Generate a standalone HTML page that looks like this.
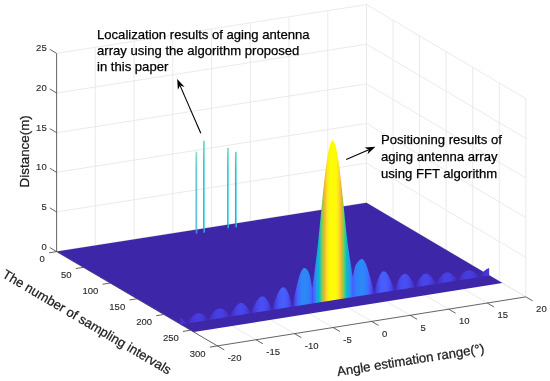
<!DOCTYPE html>
<html><head><meta charset="utf-8"><title>Figure</title>
<style>html,body{margin:0;padding:0;background:#fff}svg{display:block}.g{stroke:#e8e8e8;stroke-width:0.9;fill:none}.ax{stroke:#484848;stroke-width:0.85;fill:none}text{font-family:"Liberation Sans",Arial,Helvetica,sans-serif;fill:#262626}.t{font-size:9.5px;fill:#2a2a2a;stroke:#2a2a2a;stroke-width:0.12}.l{font-size:13.2px;fill:#1c1c1c;stroke:#1c1c1c;stroke-width:0.25}.n{font-size:13.1px;fill:#000;stroke:#000;stroke-width:0.25}.ar{stroke:#000;stroke-width:1.1;fill:none}</style></head><body>
<svg width="550" height="381" viewBox="0 0 550 381">
<rect width="550" height="381" fill="#fff"/>
<g>
<line class="g" x1="95.34" y1="245.49" x2="95.34" y2="47.29"/>
<line class="g" x1="134.07" y1="239.39" x2="134.07" y2="41.19"/>
<line class="g" x1="172.81" y1="233.28" x2="172.81" y2="35.08"/>
<line class="g" x1="211.55" y1="227.18" x2="211.55" y2="28.98"/>
<line class="g" x1="250.29" y1="221.07" x2="250.29" y2="22.87"/>
<line class="g" x1="289.02" y1="214.96" x2="289.02" y2="16.76"/>
<line class="g" x1="327.76" y1="208.86" x2="327.76" y2="10.66"/>
<line class="g" x1="366.50" y1="202.75" x2="366.50" y2="4.55"/>
<line class="g" x1="56.60" y1="251.60" x2="366.50" y2="202.75"/>
<line class="g" x1="56.60" y1="211.96" x2="366.50" y2="163.11"/>
<line class="g" x1="56.60" y1="172.32" x2="366.50" y2="123.47"/>
<line class="g" x1="56.60" y1="132.68" x2="366.50" y2="83.83"/>
<line class="g" x1="56.60" y1="93.04" x2="366.50" y2="44.19"/>
<line class="g" x1="56.60" y1="53.40" x2="366.50" y2="4.55"/>
<line class="g" x1="393.05" y1="218.44" x2="393.05" y2="20.24"/>
<line class="g" x1="419.60" y1="234.13" x2="419.60" y2="35.93"/>
<line class="g" x1="446.15" y1="249.82" x2="446.15" y2="51.62"/>
<line class="g" x1="472.70" y1="265.52" x2="472.70" y2="67.32"/>
<line class="g" x1="499.25" y1="281.21" x2="499.25" y2="83.01"/>
<line class="g" x1="525.80" y1="296.90" x2="525.80" y2="98.70"/>
<line class="g" x1="366.50" y1="202.75" x2="525.80" y2="296.90"/>
<line class="g" x1="366.50" y1="163.11" x2="525.80" y2="257.26"/>
<line class="g" x1="366.50" y1="123.47" x2="525.80" y2="217.62"/>
<line class="g" x1="366.50" y1="83.83" x2="525.80" y2="177.98"/>
<line class="g" x1="366.50" y1="44.19" x2="525.80" y2="138.34"/>
<line class="g" x1="366.50" y1="4.55" x2="525.80" y2="98.70"/>
<line class="g" x1="95.34" y1="245.49" x2="255.95" y2="339.77"/>
<line class="g" x1="134.07" y1="239.39" x2="294.50" y2="333.65"/>
<line class="g" x1="172.81" y1="233.28" x2="333.05" y2="327.52"/>
<line class="g" x1="211.55" y1="227.18" x2="371.60" y2="321.40"/>
<line class="g" x1="250.29" y1="221.07" x2="410.15" y2="315.27"/>
<line class="g" x1="289.02" y1="214.96" x2="448.70" y2="309.15"/>
<line class="g" x1="327.76" y1="208.86" x2="487.25" y2="303.02"/>
<line class="g" x1="366.50" y1="202.75" x2="525.80" y2="296.90"/>
<line class="g" x1="56.60" y1="251.60" x2="366.50" y2="202.75"/>
<line class="g" x1="83.40" y1="267.32" x2="393.05" y2="218.44"/>
<line class="g" x1="110.20" y1="283.03" x2="419.60" y2="234.13"/>
<line class="g" x1="137.00" y1="298.75" x2="446.15" y2="249.82"/>
<line class="g" x1="163.80" y1="314.47" x2="472.70" y2="265.52"/>
<line class="g" x1="190.60" y1="330.18" x2="499.25" y2="281.21"/>
</g>
<g>
<line class="ax" x1="56.60" y1="251.60" x2="56.60" y2="53.40"/>
<line class="ax" x1="56.60" y1="251.60" x2="217.40" y2="345.90"/>
<line class="ax" x1="217.40" y1="345.90" x2="525.80" y2="296.90"/>
<line class="ax" x1="56.60" y1="251.60" x2="49.80" y2="247.50"/>
<line class="ax" x1="56.60" y1="211.96" x2="49.80" y2="207.86"/>
<line class="ax" x1="56.60" y1="172.32" x2="49.80" y2="168.22"/>
<line class="ax" x1="56.60" y1="132.68" x2="49.80" y2="128.58"/>
<line class="ax" x1="56.60" y1="93.04" x2="49.80" y2="88.94"/>
<line class="ax" x1="56.60" y1="53.40" x2="49.80" y2="49.30"/>
<line class="ax" x1="56.60" y1="251.60" x2="49.00" y2="252.85"/>
<line class="ax" x1="83.40" y1="267.32" x2="75.80" y2="268.57"/>
<line class="ax" x1="110.20" y1="283.03" x2="102.60" y2="284.28"/>
<line class="ax" x1="137.00" y1="298.75" x2="129.40" y2="300.00"/>
<line class="ax" x1="163.80" y1="314.47" x2="156.20" y2="315.72"/>
<line class="ax" x1="190.60" y1="330.18" x2="183.00" y2="331.43"/>
<line class="ax" x1="217.40" y1="345.90" x2="209.80" y2="347.15"/>
<line class="ax" x1="217.40" y1="345.90" x2="224.30" y2="349.90"/>
<line class="ax" x1="255.95" y1="339.77" x2="262.85" y2="343.77"/>
<line class="ax" x1="294.50" y1="333.65" x2="301.40" y2="337.65"/>
<line class="ax" x1="333.05" y1="327.52" x2="339.95" y2="331.52"/>
<line class="ax" x1="371.60" y1="321.40" x2="378.50" y2="325.40"/>
<line class="ax" x1="410.15" y1="315.27" x2="417.05" y2="319.27"/>
<line class="ax" x1="448.70" y1="309.15" x2="455.60" y2="313.15"/>
<line class="ax" x1="487.25" y1="303.02" x2="494.15" y2="307.02"/>
<line class="ax" x1="525.80" y1="296.90" x2="532.70" y2="300.90"/>
</g>
<polygon fill="#3e26a8" points="56.60,251.60 366.50,202.75 502.44,283.09 193.82,332.07"/>
<defs><linearGradient id="sp" x1="0" y1="0" x2="0" y2="1"><stop offset="0" stop-color="#6cdcb4"/><stop offset="0.3" stop-color="#40d8d8"/><stop offset="1" stop-color="#34dcec"/></linearGradient><linearGradient id="sq" x1="0" y1="0" x2="0" y2="1"><stop offset="0" stop-color="#58c8bc"/><stop offset="0.25" stop-color="#3690d4"/><stop offset="1" stop-color="#3c74d2"/></linearGradient></defs>
<rect x="195.45" y="154.70" width="0.35" height="78.80" fill="#9a86e0" opacity="0.55"/>
<rect x="195.75" y="151.70" width="0.85" height="81.80" fill="url(#sq)"/>
<rect x="196.55" y="151.70" width="0.7" height="81.80" fill="url(#sp)"/>
<rect x="203.00" y="143.60" width="0.35" height="89.00" fill="#9a86e0" opacity="0.55"/>
<rect x="203.30" y="140.60" width="0.85" height="92.00" fill="url(#sq)"/>
<rect x="204.10" y="140.60" width="0.7" height="92.00" fill="url(#sp)"/>
<rect x="227.02" y="150.90" width="0.35" height="77.30" fill="#9a86e0" opacity="0.55"/>
<rect x="227.32" y="147.90" width="0.85" height="80.30" fill="url(#sq)"/>
<rect x="228.12" y="147.90" width="0.7" height="80.30" fill="url(#sp)"/>
<rect x="234.90" y="154.80" width="0.35" height="72.50" fill="#9a86e0" opacity="0.55"/>
<rect x="235.20" y="151.80" width="0.85" height="75.50" fill="url(#sq)"/>
<rect x="236.00" y="151.80" width="0.7" height="75.50" fill="url(#sp)"/>
<defs><linearGradient id="cg" gradientUnits="userSpaceOnUse" x1="180.42" y1="0" x2="489.16" y2="0"><stop offset="0.0000" stop-color="#4537d7"/><stop offset="0.0019" stop-color="#4537d5"/><stop offset="0.0039" stop-color="#4536d3"/><stop offset="0.0058" stop-color="#4435d0"/><stop offset="0.0078" stop-color="#4434ce"/><stop offset="0.0097" stop-color="#4332cb"/><stop offset="0.0117" stop-color="#4331c7"/><stop offset="0.0136" stop-color="#4230c3"/><stop offset="0.0155" stop-color="#422ebf"/><stop offset="0.0175" stop-color="#412dbb"/><stop offset="0.0194" stop-color="#402bb6"/><stop offset="0.0214" stop-color="#3f29b1"/><stop offset="0.0233" stop-color="#3f29b1"/><stop offset="0.0253" stop-color="#402bb7"/><stop offset="0.0272" stop-color="#412dbb"/><stop offset="0.0292" stop-color="#422ec0"/><stop offset="0.0311" stop-color="#4230c4"/><stop offset="0.0330" stop-color="#4332c8"/><stop offset="0.0350" stop-color="#4433cc"/><stop offset="0.0369" stop-color="#4434cf"/><stop offset="0.0389" stop-color="#4536d2"/><stop offset="0.0408" stop-color="#4537d5"/><stop offset="0.0428" stop-color="#4538d7"/><stop offset="0.0447" stop-color="#4639d9"/><stop offset="0.0466" stop-color="#463adb"/><stop offset="0.0486" stop-color="#463bdd"/><stop offset="0.0505" stop-color="#463bde"/><stop offset="0.0525" stop-color="#463cde"/><stop offset="0.0544" stop-color="#463cdf"/><stop offset="0.0564" stop-color="#463ddf"/><stop offset="0.0583" stop-color="#463ddf"/><stop offset="0.0602" stop-color="#463cdf"/><stop offset="0.0622" stop-color="#463cde"/><stop offset="0.0641" stop-color="#463bde"/><stop offset="0.0661" stop-color="#463bdc"/><stop offset="0.0680" stop-color="#463adb"/><stop offset="0.0700" stop-color="#4639d9"/><stop offset="0.0719" stop-color="#4538d7"/><stop offset="0.0738" stop-color="#4537d5"/><stop offset="0.0758" stop-color="#4435d2"/><stop offset="0.0777" stop-color="#4434ce"/><stop offset="0.0797" stop-color="#4332cb"/><stop offset="0.0816" stop-color="#4331c6"/><stop offset="0.0836" stop-color="#422fc2"/><stop offset="0.0855" stop-color="#412dbd"/><stop offset="0.0875" stop-color="#402bb7"/><stop offset="0.0894" stop-color="#3f29b1"/><stop offset="0.0913" stop-color="#3f29b1"/><stop offset="0.0933" stop-color="#402bb8"/><stop offset="0.0952" stop-color="#412dbd"/><stop offset="0.0972" stop-color="#422fc2"/><stop offset="0.0991" stop-color="#4331c7"/><stop offset="0.1011" stop-color="#4433cb"/><stop offset="0.1030" stop-color="#4434d0"/><stop offset="0.1049" stop-color="#4536d3"/><stop offset="0.1069" stop-color="#4538d7"/><stop offset="0.1088" stop-color="#4639d9"/><stop offset="0.1108" stop-color="#463adc"/><stop offset="0.1127" stop-color="#463cde"/><stop offset="0.1147" stop-color="#463de0"/><stop offset="0.1166" stop-color="#463ee1"/><stop offset="0.1185" stop-color="#473fe2"/><stop offset="0.1205" stop-color="#4740e3"/><stop offset="0.1224" stop-color="#4740e4"/><stop offset="0.1244" stop-color="#4741e4"/><stop offset="0.1263" stop-color="#4741e5"/><stop offset="0.1283" stop-color="#4741e4"/><stop offset="0.1302" stop-color="#4740e4"/><stop offset="0.1321" stop-color="#4740e3"/><stop offset="0.1341" stop-color="#473fe3"/><stop offset="0.1360" stop-color="#473ee1"/><stop offset="0.1380" stop-color="#463de0"/><stop offset="0.1399" stop-color="#463cde"/><stop offset="0.1419" stop-color="#463bdc"/><stop offset="0.1438" stop-color="#4639d9"/><stop offset="0.1458" stop-color="#4537d6"/><stop offset="0.1477" stop-color="#4536d3"/><stop offset="0.1496" stop-color="#4434ce"/><stop offset="0.1516" stop-color="#4332ca"/><stop offset="0.1535" stop-color="#4330c5"/><stop offset="0.1555" stop-color="#422ebf"/><stop offset="0.1574" stop-color="#412cb9"/><stop offset="0.1594" stop-color="#3f29b2"/><stop offset="0.1613" stop-color="#3f29b2"/><stop offset="0.1632" stop-color="#412cba"/><stop offset="0.1652" stop-color="#422fc0"/><stop offset="0.1671" stop-color="#4331c6"/><stop offset="0.1691" stop-color="#4433cc"/><stop offset="0.1710" stop-color="#4435d1"/><stop offset="0.1730" stop-color="#4537d6"/><stop offset="0.1749" stop-color="#4639da"/><stop offset="0.1768" stop-color="#463bdd"/><stop offset="0.1788" stop-color="#463de0"/><stop offset="0.1807" stop-color="#473fe3"/><stop offset="0.1827" stop-color="#4741e5"/><stop offset="0.1846" stop-color="#4742e7"/><stop offset="0.1866" stop-color="#4744e8"/><stop offset="0.1885" stop-color="#4745e9"/><stop offset="0.1904" stop-color="#4746ea"/><stop offset="0.1924" stop-color="#4746ea"/><stop offset="0.1943" stop-color="#4747eb"/><stop offset="0.1963" stop-color="#4747eb"/><stop offset="0.1982" stop-color="#4746eb"/><stop offset="0.2002" stop-color="#4746ea"/><stop offset="0.2021" stop-color="#4745e9"/><stop offset="0.2041" stop-color="#4744e8"/><stop offset="0.2060" stop-color="#4743e7"/><stop offset="0.2079" stop-color="#4742e6"/><stop offset="0.2099" stop-color="#4740e3"/><stop offset="0.2118" stop-color="#463ee1"/><stop offset="0.2138" stop-color="#463cde"/><stop offset="0.2157" stop-color="#4639da"/><stop offset="0.2177" stop-color="#4537d6"/><stop offset="0.2196" stop-color="#4435d0"/><stop offset="0.2215" stop-color="#4332ca"/><stop offset="0.2235" stop-color="#4230c3"/><stop offset="0.2254" stop-color="#412dbb"/><stop offset="0.2274" stop-color="#402ab3"/><stop offset="0.2293" stop-color="#402ab3"/><stop offset="0.2313" stop-color="#412dbc"/><stop offset="0.2332" stop-color="#4230c4"/><stop offset="0.2351" stop-color="#4433cb"/><stop offset="0.2371" stop-color="#4535d2"/><stop offset="0.2390" stop-color="#4538d8"/><stop offset="0.2410" stop-color="#463bdd"/><stop offset="0.2429" stop-color="#463ee1"/><stop offset="0.2449" stop-color="#4741e5"/><stop offset="0.2468" stop-color="#4743e7"/><stop offset="0.2487" stop-color="#4746ea"/><stop offset="0.2507" stop-color="#4848ec"/><stop offset="0.2526" stop-color="#484aee"/><stop offset="0.2546" stop-color="#484cef"/><stop offset="0.2565" stop-color="#484df0"/><stop offset="0.2585" stop-color="#484ef1"/><stop offset="0.2604" stop-color="#484ff2"/><stop offset="0.2624" stop-color="#484ff2"/><stop offset="0.2643" stop-color="#4850f2"/><stop offset="0.2662" stop-color="#4850f2"/><stop offset="0.2682" stop-color="#484ff2"/><stop offset="0.2701" stop-color="#484ff1"/><stop offset="0.2721" stop-color="#484df1"/><stop offset="0.2740" stop-color="#484cf0"/><stop offset="0.2760" stop-color="#484aee"/><stop offset="0.2779" stop-color="#4848ec"/><stop offset="0.2798" stop-color="#4746ea"/><stop offset="0.2818" stop-color="#4743e8"/><stop offset="0.2837" stop-color="#4741e4"/><stop offset="0.2857" stop-color="#463de0"/><stop offset="0.2876" stop-color="#463adb"/><stop offset="0.2896" stop-color="#4537d5"/><stop offset="0.2915" stop-color="#4433cd"/><stop offset="0.2934" stop-color="#4230c4"/><stop offset="0.2954" stop-color="#412cba"/><stop offset="0.2973" stop-color="#3f28ae"/><stop offset="0.2993" stop-color="#412dbb"/><stop offset="0.3012" stop-color="#4331c6"/><stop offset="0.3032" stop-color="#4435d0"/><stop offset="0.3051" stop-color="#4539d9"/><stop offset="0.3070" stop-color="#463de0"/><stop offset="0.3090" stop-color="#4741e5"/><stop offset="0.3109" stop-color="#4746ea"/><stop offset="0.3129" stop-color="#484aed"/><stop offset="0.3148" stop-color="#484df1"/><stop offset="0.3168" stop-color="#4851f3"/><stop offset="0.3187" stop-color="#4854f5"/><stop offset="0.3207" stop-color="#4757f7"/><stop offset="0.3226" stop-color="#4759f8"/><stop offset="0.3245" stop-color="#475bf9"/><stop offset="0.3265" stop-color="#475dfa"/><stop offset="0.3284" stop-color="#465efb"/><stop offset="0.3304" stop-color="#465ffb"/><stop offset="0.3323" stop-color="#465ffb"/><stop offset="0.3343" stop-color="#465ffb"/><stop offset="0.3362" stop-color="#465ffb"/><stop offset="0.3381" stop-color="#465efb"/><stop offset="0.3401" stop-color="#475cfa"/><stop offset="0.3420" stop-color="#475bf9"/><stop offset="0.3440" stop-color="#4758f8"/><stop offset="0.3459" stop-color="#4755f6"/><stop offset="0.3479" stop-color="#4852f4"/><stop offset="0.3498" stop-color="#484ef1"/><stop offset="0.3517" stop-color="#484aee"/><stop offset="0.3537" stop-color="#4745e9"/><stop offset="0.3556" stop-color="#4740e3"/><stop offset="0.3576" stop-color="#463adb"/><stop offset="0.3595" stop-color="#4435d2"/><stop offset="0.3615" stop-color="#4330c5"/><stop offset="0.3634" stop-color="#402bb7"/><stop offset="0.3654" stop-color="#4330c5"/><stop offset="0.3673" stop-color="#4537d5"/><stop offset="0.3692" stop-color="#473ee2"/><stop offset="0.3712" stop-color="#4746ea"/><stop offset="0.3731" stop-color="#484df0"/><stop offset="0.3751" stop-color="#4854f5"/><stop offset="0.3770" stop-color="#475bf9"/><stop offset="0.3790" stop-color="#4561fc"/><stop offset="0.3809" stop-color="#4367fd"/><stop offset="0.3828" stop-color="#406dfe"/><stop offset="0.3848" stop-color="#3b72ff"/><stop offset="0.3867" stop-color="#3677fe"/><stop offset="0.3887" stop-color="#327cfc"/><stop offset="0.3906" stop-color="#3080fb"/><stop offset="0.3926" stop-color="#2f83f9"/><stop offset="0.3945" stop-color="#2e85f8"/><stop offset="0.3964" stop-color="#2e87f7"/><stop offset="0.3984" stop-color="#2d88f6"/><stop offset="0.4003" stop-color="#2d89f6"/><stop offset="0.4023" stop-color="#2d89f5"/><stop offset="0.4042" stop-color="#2d88f6"/><stop offset="0.4062" stop-color="#2d88f6"/><stop offset="0.4081" stop-color="#2e87f7"/><stop offset="0.4100" stop-color="#2e85f8"/><stop offset="0.4120" stop-color="#2e83f9"/><stop offset="0.4139" stop-color="#2f81fa"/><stop offset="0.4159" stop-color="#317efb"/><stop offset="0.4178" stop-color="#347afd"/><stop offset="0.4198" stop-color="#3975fe"/><stop offset="0.4217" stop-color="#3f6eff"/><stop offset="0.4237" stop-color="#4466fd"/><stop offset="0.4256" stop-color="#475cfa"/><stop offset="0.4275" stop-color="#4851f3"/><stop offset="0.4295" stop-color="#4759f8"/><stop offset="0.4314" stop-color="#4465fd"/><stop offset="0.4334" stop-color="#3d70ff"/><stop offset="0.4353" stop-color="#327cfc"/><stop offset="0.4373" stop-color="#2e86f7"/><stop offset="0.4392" stop-color="#2b90f0"/><stop offset="0.4411" stop-color="#269ae9"/><stop offset="0.4431" stop-color="#21a3e3"/><stop offset="0.4450" stop-color="#19addc"/><stop offset="0.4470" stop-color="#07b5d0"/><stop offset="0.4489" stop-color="#04bbc2"/><stop offset="0.4509" stop-color="#1fc0b2"/><stop offset="0.4528" stop-color="#31c6a1"/><stop offset="0.4547" stop-color="#41ca8c"/><stop offset="0.4567" stop-color="#5dcc75"/><stop offset="0.4586" stop-color="#7ccc5c"/><stop offset="0.4606" stop-color="#9cc944"/><stop offset="0.4625" stop-color="#b9c431"/><stop offset="0.4645" stop-color="#d2bf27"/><stop offset="0.4664" stop-color="#e6bb2d"/><stop offset="0.4683" stop-color="#f7ba3c"/><stop offset="0.4703" stop-color="#fec13a"/><stop offset="0.4722" stop-color="#fecf2e"/><stop offset="0.4742" stop-color="#fbdd24"/><stop offset="0.4761" stop-color="#f9e71c"/><stop offset="0.4781" stop-color="#f9ef16"/><stop offset="0.4800" stop-color="#faf411"/><stop offset="0.4820" stop-color="#fbf80d"/><stop offset="0.4839" stop-color="#fcfa09"/><stop offset="0.4858" stop-color="#fdfc06"/><stop offset="0.4878" stop-color="#fdfc06"/><stop offset="0.4897" stop-color="#fdfc06"/><stop offset="0.4917" stop-color="#fdfc06"/><stop offset="0.4936" stop-color="#fdfc06"/><stop offset="0.4956" stop-color="#fdfc06"/><stop offset="0.4975" stop-color="#fdfc06"/><stop offset="0.4994" stop-color="#fdfc06"/><stop offset="0.5014" stop-color="#fdfc06"/><stop offset="0.5033" stop-color="#fcfa09"/><stop offset="0.5053" stop-color="#fbf80d"/><stop offset="0.5072" stop-color="#faf411"/><stop offset="0.5092" stop-color="#f9ee17"/><stop offset="0.5111" stop-color="#f9e71d"/><stop offset="0.5130" stop-color="#fbdc25"/><stop offset="0.5150" stop-color="#fecf2f"/><stop offset="0.5169" stop-color="#fec03a"/><stop offset="0.5189" stop-color="#f6ba3b"/><stop offset="0.5208" stop-color="#e5bb2d"/><stop offset="0.5228" stop-color="#d0bf27"/><stop offset="0.5247" stop-color="#b7c532"/><stop offset="0.5266" stop-color="#9ac945"/><stop offset="0.5286" stop-color="#7bcc5d"/><stop offset="0.5305" stop-color="#5ccc76"/><stop offset="0.5325" stop-color="#40ca8d"/><stop offset="0.5344" stop-color="#31c6a0"/><stop offset="0.5364" stop-color="#20c1b1"/><stop offset="0.5383" stop-color="#06bcc0"/><stop offset="0.5403" stop-color="#05b6ce"/><stop offset="0.5422" stop-color="#16afda"/><stop offset="0.5441" stop-color="#1ea7e1"/><stop offset="0.5461" stop-color="#249ee6"/><stop offset="0.5480" stop-color="#2896eb"/><stop offset="0.5500" stop-color="#2c8ef2"/><stop offset="0.5519" stop-color="#2e85f8"/><stop offset="0.5539" stop-color="#327bfc"/><stop offset="0.5558" stop-color="#3d70ff"/><stop offset="0.5577" stop-color="#4464fd"/><stop offset="0.5597" stop-color="#475dfa"/><stop offset="0.5616" stop-color="#4367fd"/><stop offset="0.5636" stop-color="#3e6fff"/><stop offset="0.5655" stop-color="#3975fe"/><stop offset="0.5675" stop-color="#347afd"/><stop offset="0.5694" stop-color="#317dfc"/><stop offset="0.5713" stop-color="#307ffb"/><stop offset="0.5733" stop-color="#2f81fa"/><stop offset="0.5752" stop-color="#2f83f9"/><stop offset="0.5772" stop-color="#2e84f8"/><stop offset="0.5791" stop-color="#2e85f8"/><stop offset="0.5811" stop-color="#2e86f7"/><stop offset="0.5830" stop-color="#2d87f6"/><stop offset="0.5849" stop-color="#2d88f6"/><stop offset="0.5869" stop-color="#2d88f6"/><stop offset="0.5888" stop-color="#2d88f6"/><stop offset="0.5908" stop-color="#2d88f6"/><stop offset="0.5927" stop-color="#2e87f7"/><stop offset="0.5947" stop-color="#2e85f8"/><stop offset="0.5966" stop-color="#2e83f9"/><stop offset="0.5986" stop-color="#2f80fa"/><stop offset="0.6005" stop-color="#317dfc"/><stop offset="0.6024" stop-color="#3479fd"/><stop offset="0.6044" stop-color="#3975fe"/><stop offset="0.6063" stop-color="#3e70ff"/><stop offset="0.6083" stop-color="#416afe"/><stop offset="0.6102" stop-color="#4465fd"/><stop offset="0.6122" stop-color="#465ffb"/><stop offset="0.6141" stop-color="#4759f9"/><stop offset="0.6160" stop-color="#4853f5"/><stop offset="0.6180" stop-color="#484df0"/><stop offset="0.6199" stop-color="#4746ea"/><stop offset="0.6219" stop-color="#473fe2"/><stop offset="0.6238" stop-color="#4538d7"/><stop offset="0.6258" stop-color="#4332c8"/><stop offset="0.6277" stop-color="#402bb7"/><stop offset="0.6296" stop-color="#422fc1"/><stop offset="0.6316" stop-color="#4434ce"/><stop offset="0.6335" stop-color="#4539d9"/><stop offset="0.6355" stop-color="#463ee1"/><stop offset="0.6374" stop-color="#4743e8"/><stop offset="0.6394" stop-color="#4848ec"/><stop offset="0.6413" stop-color="#484df0"/><stop offset="0.6432" stop-color="#4851f3"/><stop offset="0.6452" stop-color="#4854f6"/><stop offset="0.6471" stop-color="#4757f7"/><stop offset="0.6491" stop-color="#475af9"/><stop offset="0.6510" stop-color="#475cfa"/><stop offset="0.6530" stop-color="#465dfb"/><stop offset="0.6549" stop-color="#465ffb"/><stop offset="0.6569" stop-color="#465ffb"/><stop offset="0.6588" stop-color="#465ffb"/><stop offset="0.6607" stop-color="#465ffb"/><stop offset="0.6627" stop-color="#465efb"/><stop offset="0.6646" stop-color="#465dfa"/><stop offset="0.6666" stop-color="#475cfa"/><stop offset="0.6685" stop-color="#475af9"/><stop offset="0.6705" stop-color="#4758f8"/><stop offset="0.6724" stop-color="#4755f6"/><stop offset="0.6743" stop-color="#4852f4"/><stop offset="0.6763" stop-color="#484ff2"/><stop offset="0.6782" stop-color="#484bef"/><stop offset="0.6802" stop-color="#4747eb"/><stop offset="0.6821" stop-color="#4743e7"/><stop offset="0.6841" stop-color="#473fe2"/><stop offset="0.6860" stop-color="#463adc"/><stop offset="0.6879" stop-color="#4536d4"/><stop offset="0.6899" stop-color="#4332cb"/><stop offset="0.6918" stop-color="#422fc0"/><stop offset="0.6938" stop-color="#402ab5"/><stop offset="0.6957" stop-color="#402ab5"/><stop offset="0.6977" stop-color="#422fc0"/><stop offset="0.6996" stop-color="#4332ca"/><stop offset="0.7015" stop-color="#4536d2"/><stop offset="0.7035" stop-color="#4639d9"/><stop offset="0.7054" stop-color="#463cdf"/><stop offset="0.7074" stop-color="#4740e3"/><stop offset="0.7093" stop-color="#4743e7"/><stop offset="0.7113" stop-color="#4746ea"/><stop offset="0.7132" stop-color="#4848ec"/><stop offset="0.7152" stop-color="#484aee"/><stop offset="0.7171" stop-color="#484cef"/><stop offset="0.7190" stop-color="#484df1"/><stop offset="0.7210" stop-color="#484ef1"/><stop offset="0.7229" stop-color="#484ff2"/><stop offset="0.7249" stop-color="#4850f2"/><stop offset="0.7268" stop-color="#4850f2"/><stop offset="0.7288" stop-color="#484ff2"/><stop offset="0.7307" stop-color="#484ff2"/><stop offset="0.7326" stop-color="#484ef1"/><stop offset="0.7346" stop-color="#484df0"/><stop offset="0.7365" stop-color="#484bef"/><stop offset="0.7385" stop-color="#4849ed"/><stop offset="0.7404" stop-color="#4747ec"/><stop offset="0.7424" stop-color="#4745e9"/><stop offset="0.7443" stop-color="#4743e7"/><stop offset="0.7462" stop-color="#4740e3"/><stop offset="0.7482" stop-color="#463de0"/><stop offset="0.7501" stop-color="#463adb"/><stop offset="0.7521" stop-color="#4537d6"/><stop offset="0.7540" stop-color="#4434cf"/><stop offset="0.7560" stop-color="#4331c8"/><stop offset="0.7579" stop-color="#422ec0"/><stop offset="0.7599" stop-color="#402bb8"/><stop offset="0.7618" stop-color="#3f28ae"/><stop offset="0.7637" stop-color="#402bb8"/><stop offset="0.7657" stop-color="#422ec0"/><stop offset="0.7676" stop-color="#4331c7"/><stop offset="0.7696" stop-color="#4434ce"/><stop offset="0.7715" stop-color="#4536d3"/><stop offset="0.7735" stop-color="#4538d8"/><stop offset="0.7754" stop-color="#463bdc"/><stop offset="0.7773" stop-color="#463de0"/><stop offset="0.7793" stop-color="#473fe2"/><stop offset="0.7812" stop-color="#4741e5"/><stop offset="0.7832" stop-color="#4742e6"/><stop offset="0.7851" stop-color="#4744e8"/><stop offset="0.7871" stop-color="#4745e9"/><stop offset="0.7890" stop-color="#4746ea"/><stop offset="0.7909" stop-color="#4746ea"/><stop offset="0.7929" stop-color="#4747eb"/><stop offset="0.7948" stop-color="#4747eb"/><stop offset="0.7968" stop-color="#4746eb"/><stop offset="0.7987" stop-color="#4746ea"/><stop offset="0.8007" stop-color="#4745e9"/><stop offset="0.8026" stop-color="#4744e8"/><stop offset="0.8045" stop-color="#4743e7"/><stop offset="0.8065" stop-color="#4741e5"/><stop offset="0.8084" stop-color="#4740e3"/><stop offset="0.8104" stop-color="#463ee1"/><stop offset="0.8123" stop-color="#463cde"/><stop offset="0.8143" stop-color="#463adb"/><stop offset="0.8162" stop-color="#4538d7"/><stop offset="0.8182" stop-color="#4536d3"/><stop offset="0.8201" stop-color="#4434ce"/><stop offset="0.8220" stop-color="#4331c8"/><stop offset="0.8240" stop-color="#422fc2"/><stop offset="0.8259" stop-color="#412dbb"/><stop offset="0.8279" stop-color="#402ab5"/><stop offset="0.8298" stop-color="#3f29b0"/><stop offset="0.8318" stop-color="#402bb7"/><stop offset="0.8337" stop-color="#412ebd"/><stop offset="0.8356" stop-color="#4230c3"/><stop offset="0.8376" stop-color="#4332c9"/><stop offset="0.8395" stop-color="#4434ce"/><stop offset="0.8415" stop-color="#4535d2"/><stop offset="0.8434" stop-color="#4537d6"/><stop offset="0.8454" stop-color="#4539d9"/><stop offset="0.8473" stop-color="#463adc"/><stop offset="0.8492" stop-color="#463cde"/><stop offset="0.8512" stop-color="#463de0"/><stop offset="0.8531" stop-color="#473ee1"/><stop offset="0.8551" stop-color="#473fe2"/><stop offset="0.8570" stop-color="#4740e3"/><stop offset="0.8590" stop-color="#4740e4"/><stop offset="0.8609" stop-color="#4741e4"/><stop offset="0.8628" stop-color="#4741e5"/><stop offset="0.8648" stop-color="#4741e4"/><stop offset="0.8667" stop-color="#4740e4"/><stop offset="0.8687" stop-color="#4740e3"/><stop offset="0.8706" stop-color="#473fe2"/><stop offset="0.8726" stop-color="#463ee1"/><stop offset="0.8745" stop-color="#463de0"/><stop offset="0.8765" stop-color="#463cde"/><stop offset="0.8784" stop-color="#463adc"/><stop offset="0.8803" stop-color="#4639d9"/><stop offset="0.8823" stop-color="#4537d6"/><stop offset="0.8842" stop-color="#4536d3"/><stop offset="0.8862" stop-color="#4434cf"/><stop offset="0.8881" stop-color="#4432cb"/><stop offset="0.8901" stop-color="#4331c6"/><stop offset="0.8920" stop-color="#422fc1"/><stop offset="0.8939" stop-color="#412dbc"/><stop offset="0.8959" stop-color="#402bb6"/><stop offset="0.8978" stop-color="#3f29b0"/><stop offset="0.8998" stop-color="#4029b3"/><stop offset="0.9017" stop-color="#402cb8"/><stop offset="0.9037" stop-color="#412dbd"/><stop offset="0.9056" stop-color="#422fc2"/><stop offset="0.9075" stop-color="#4331c7"/><stop offset="0.9095" stop-color="#4332cb"/><stop offset="0.9114" stop-color="#4434ce"/><stop offset="0.9134" stop-color="#4435d2"/><stop offset="0.9153" stop-color="#4536d5"/><stop offset="0.9173" stop-color="#4538d7"/><stop offset="0.9192" stop-color="#4539d9"/><stop offset="0.9211" stop-color="#463adb"/><stop offset="0.9231" stop-color="#463bdc"/><stop offset="0.9250" stop-color="#463bdd"/><stop offset="0.9270" stop-color="#463cde"/><stop offset="0.9289" stop-color="#463cdf"/><stop offset="0.9309" stop-color="#463cdf"/><stop offset="0.9328" stop-color="#463ddf"/><stop offset="0.9348" stop-color="#463cdf"/><stop offset="0.9367" stop-color="#463cdf"/><stop offset="0.9386" stop-color="#463cde"/><stop offset="0.9406" stop-color="#463bdd"/><stop offset="0.9425" stop-color="#463bdc"/><stop offset="0.9445" stop-color="#463adb"/><stop offset="0.9464" stop-color="#4539d9"/><stop offset="0.9484" stop-color="#4538d7"/><stop offset="0.9503" stop-color="#4537d5"/><stop offset="0.9522" stop-color="#4535d2"/><stop offset="0.9542" stop-color="#4434cf"/><stop offset="0.9561" stop-color="#4433cc"/><stop offset="0.9581" stop-color="#4331c8"/><stop offset="0.9600" stop-color="#4230c4"/><stop offset="0.9620" stop-color="#422ec0"/><stop offset="0.9639" stop-color="#412dbb"/><stop offset="0.9658" stop-color="#402bb7"/><stop offset="0.9678" stop-color="#3f29b2"/><stop offset="0.9697" stop-color="#3f29b0"/><stop offset="0.9717" stop-color="#402ab5"/><stop offset="0.9736" stop-color="#412cba"/><stop offset="0.9756" stop-color="#422ebe"/><stop offset="0.9775" stop-color="#422fc2"/><stop offset="0.9794" stop-color="#4331c6"/><stop offset="0.9814" stop-color="#4332c9"/><stop offset="0.9833" stop-color="#4433cd"/><stop offset="0.9853" stop-color="#4434cf"/><stop offset="0.9872" stop-color="#4435d2"/><stop offset="0.9892" stop-color="#4536d4"/><stop offset="0.9911" stop-color="#4537d6"/><stop offset="0.9931" stop-color="#4538d7"/><stop offset="0.9950" stop-color="#4538d8"/><stop offset="0.9969" stop-color="#4639d9"/><stop offset="0.9989" stop-color="#4639da"/><stop offset="1.0000" stop-color="#463ada"/></linearGradient></defs>
<path fill="url(#cg)" d="M180.4 324.5 L180.4 318.0 L180.9 318.2 L181.4 318.5 L181.9 318.7 L182.4 319.0 L182.9 319.3 L183.4 319.7 L183.9 320.1 L184.4 320.4 L184.9 320.9 L185.4 321.3 L185.9 321.7 L186.4 322.2 L186.9 322.6 L187.4 322.2 L187.9 321.6 L188.4 320.9 L188.9 320.3 L189.4 319.7 L189.9 319.1 L190.4 318.6 L190.9 318.0 L191.4 317.5 L191.9 316.9 L192.4 316.4 L192.9 316.0 L193.4 315.5 L193.9 315.1 L194.4 314.8 L194.9 314.4 L195.4 314.1 L195.9 313.9 L196.4 313.6 L196.9 313.5 L197.4 313.3 L197.9 313.2 L198.4 313.2 L198.9 313.2 L199.4 313.2 L199.9 313.3 L200.4 313.4 L200.9 313.6 L201.4 313.8 L201.9 314.0 L202.4 314.3 L202.9 314.6 L203.4 315.0 L203.9 315.4 L204.4 315.8 L204.9 316.2 L205.4 316.7 L205.9 317.2 L206.4 317.7 L206.9 318.2 L207.4 318.7 L207.9 319.3 L208.4 318.8 L208.9 318.1 L209.4 317.4 L209.9 316.7 L210.4 316.0 L210.9 315.4 L211.4 314.7 L211.9 314.1 L212.4 313.5 L212.9 312.9 L213.4 312.3 L213.9 311.8 L214.4 311.3 L214.9 310.8 L215.4 310.4 L215.9 310.0 L216.4 309.6 L216.9 309.3 L217.4 309.0 L217.9 308.8 L218.4 308.6 L218.9 308.5 L219.4 308.4 L219.9 308.4 L220.4 308.4 L220.9 308.5 L221.4 308.6 L221.9 308.7 L222.4 308.9 L222.9 309.2 L223.4 309.5 L223.9 309.8 L224.4 310.2 L224.9 310.6 L225.4 311.1 L225.9 311.6 L226.4 312.1 L226.9 312.6 L227.4 313.2 L227.9 313.8 L228.4 314.4 L228.9 315.1 L229.4 315.7 L229.9 315.4 L230.4 314.6 L230.9 313.7 L231.4 312.9 L231.9 312.1 L232.4 311.3 L232.9 310.5 L233.4 309.7 L233.9 309.0 L234.4 308.2 L234.9 307.5 L235.4 306.9 L235.9 306.3 L236.4 305.7 L236.9 305.2 L237.4 304.7 L237.9 304.3 L238.4 303.9 L238.9 303.6 L239.4 303.4 L239.9 303.2 L240.4 303.0 L240.9 303.0 L241.4 303.0 L241.9 303.0 L242.4 303.1 L242.9 303.3 L243.4 303.6 L243.9 303.9 L244.4 304.3 L244.9 304.7 L245.4 305.2 L245.9 305.7 L246.4 306.3 L246.9 306.9 L247.4 307.6 L247.9 308.3 L248.4 309.0 L248.9 309.8 L249.4 310.6 L249.9 311.4 L250.4 312.3 L250.9 312.0 L251.4 311.0 L251.9 309.9 L252.4 308.9 L252.9 307.9 L253.4 306.9 L253.9 305.9 L254.4 305.0 L254.9 304.1 L255.4 303.2 L255.9 302.3 L256.4 301.5 L256.9 300.7 L257.4 300.0 L257.9 299.3 L258.4 298.7 L258.9 298.2 L259.4 297.7 L259.9 297.3 L260.4 297.0 L260.9 296.7 L261.4 296.5 L261.9 296.4 L262.4 296.4 L262.9 296.4 L263.4 296.6 L263.9 296.8 L264.4 297.0 L264.9 297.4 L265.4 297.8 L265.9 298.4 L266.4 298.9 L266.9 299.6 L267.4 300.3 L267.9 301.1 L268.4 302.0 L268.9 302.9 L269.4 303.9 L269.9 304.9 L270.4 305.9 L270.9 307.0 L271.4 308.1 L271.9 309.2 L272.4 307.8 L272.9 306.4 L273.4 305.0 L273.9 303.6 L274.4 302.3 L274.9 300.9 L275.4 299.6 L275.9 298.3 L276.4 297.0 L276.9 295.8 L277.4 294.6 L277.9 293.5 L278.4 292.5 L278.9 291.5 L279.4 290.6 L279.9 289.8 L280.4 289.1 L280.9 288.5 L281.4 288.0 L281.9 287.7 L282.4 287.4 L282.9 287.2 L283.4 287.2 L283.9 287.3 L284.4 287.5 L284.9 287.8 L285.4 288.3 L285.9 288.8 L286.4 289.5 L286.9 290.4 L287.4 291.3 L287.9 292.3 L288.4 293.5 L288.9 294.8 L289.4 296.1 L289.9 297.6 L290.4 299.1 L290.9 300.6 L291.4 302.1 L291.9 303.7 L292.4 305.2 L292.9 302.9 L293.4 300.6 L293.9 298.3 L294.4 295.9 L294.9 293.7 L295.4 291.6 L295.9 289.4 L296.4 287.3 L296.9 285.2 L297.4 283.2 L297.9 281.3 L298.4 279.5 L298.9 277.7 L299.4 276.1 L299.9 274.6 L300.4 273.2 L300.9 272.0 L301.4 270.9 L301.9 270.0 L302.4 269.3 L302.9 268.7 L303.4 268.3 L303.9 268.0 L304.4 267.9 L304.9 268.0 L305.4 268.2 L305.9 268.5 L306.4 268.9 L306.9 269.4 L307.4 270.1 L307.9 270.8 L308.4 271.8 L308.9 272.9 L309.4 274.2 L309.9 275.9 L310.4 277.9 L310.9 280.3 L311.4 283.2 L311.9 286.6 L312.4 287.1 L312.9 283.3 L313.4 279.7 L313.9 276.0 L314.4 272.4 L314.9 268.8 L315.4 265.1 L315.9 261.3 L316.4 257.3 L316.9 253.1 L317.4 248.7 L317.9 244.1 L318.4 239.3 L318.9 234.4 L319.4 229.4 L319.9 224.3 L320.4 219.1 L320.9 214.0 L321.4 208.8 L321.9 203.7 L322.4 198.7 L322.9 193.8 L323.4 189.0 L323.9 184.3 L324.4 179.8 L324.9 175.5 L325.4 171.4 L325.9 167.4 L326.4 163.8 L326.9 160.3 L327.4 157.1 L327.9 154.1 L328.4 151.4 L328.9 149.0 L329.4 146.9 L329.9 145.1 L330.4 143.5 L330.9 142.3 L331.4 141.4 L331.9 140.8 L332.4 140.5 L332.9 140.5 L333.4 140.9 L333.9 141.5 L334.4 142.5 L334.9 143.8 L335.4 145.3 L335.9 147.2 L336.4 149.4 L336.9 151.8 L337.4 154.5 L337.9 157.5 L338.4 160.7 L338.9 164.1 L339.4 167.8 L339.9 171.7 L340.4 175.8 L340.9 180.1 L341.4 184.5 L341.9 189.1 L342.4 193.8 L342.9 198.6 L343.4 203.5 L343.9 208.5 L344.4 213.4 L344.9 218.3 L345.4 223.1 L345.9 227.9 L346.4 232.4 L346.9 236.8 L347.4 241.0 L347.9 244.9 L348.4 248.6 L348.9 252.1 L349.4 255.4 L349.9 258.6 L350.4 261.7 L350.9 264.8 L351.4 268.0 L351.9 271.4 L352.4 275.0 L352.9 277.1 L353.4 273.8 L353.9 271.1 L354.4 268.9 L354.9 267.2 L355.4 265.8 L355.9 264.8 L356.4 263.9 L356.9 263.2 L357.4 262.5 L357.9 261.9 L358.4 261.4 L358.9 260.8 L359.4 260.3 L359.9 259.9 L360.4 259.5 L360.9 259.2 L361.4 259.1 L361.9 259.0 L362.4 259.1 L362.9 259.4 L363.4 259.8 L363.9 260.3 L364.4 261.1 L364.9 261.9 L365.4 262.9 L365.9 264.0 L366.4 265.3 L366.9 266.6 L367.4 268.1 L367.9 269.6 L368.4 271.2 L368.9 272.9 L369.4 274.7 L369.9 276.5 L370.4 278.3 L370.9 280.2 L371.4 282.0 L371.9 283.9 L372.4 286.0 L372.9 288.0 L373.4 290.0 L373.9 292.0 L374.4 290.8 L374.9 289.1 L375.4 287.4 L375.9 285.8 L376.4 284.1 L376.9 282.5 L377.4 281.0 L377.9 279.5 L378.4 278.2 L378.9 277.0 L379.4 275.9 L379.9 274.9 L380.4 274.0 L380.9 273.2 L381.4 272.6 L381.9 272.1 L382.4 271.7 L382.9 271.4 L383.4 271.3 L383.9 271.3 L384.4 271.4 L384.9 271.6 L385.4 271.9 L385.9 272.3 L386.4 272.8 L386.9 273.4 L387.4 274.1 L387.9 274.8 L388.4 275.7 L388.9 276.6 L389.4 277.6 L389.9 278.7 L390.4 279.7 L390.9 280.9 L391.4 282.0 L391.9 283.2 L392.4 284.4 L392.9 285.7 L393.4 286.9 L393.9 288.1 L394.4 289.3 L394.9 288.9 L395.4 287.6 L395.9 286.3 L396.4 285.1 L396.9 283.8 L397.4 282.7 L397.9 281.6 L398.4 280.5 L398.9 279.6 L399.4 278.6 L399.9 277.8 L400.4 277.0 L400.9 276.3 L401.4 275.7 L401.9 275.2 L402.4 274.8 L402.9 274.4 L403.4 274.1 L403.9 273.9 L404.4 273.8 L404.9 273.8 L405.4 273.8 L405.9 274.0 L406.4 274.2 L406.9 274.5 L407.4 274.8 L407.9 275.3 L408.4 275.7 L408.9 276.3 L409.4 276.9 L409.9 277.6 L410.4 278.3 L410.9 279.0 L411.4 279.8 L411.9 280.6 L412.4 281.4 L412.9 282.3 L413.4 283.2 L413.9 284.0 L414.4 284.9 L414.9 285.8 L415.4 286.2 L415.9 285.2 L416.4 284.2 L416.9 283.3 L417.4 282.3 L417.9 281.4 L418.4 280.5 L418.9 279.7 L419.4 278.9 L419.9 278.1 L420.4 277.5 L420.9 276.8 L421.4 276.2 L421.9 275.7 L422.4 275.2 L422.9 274.8 L423.4 274.5 L423.9 274.2 L424.4 274.0 L424.9 273.8 L425.4 273.7 L425.9 273.7 L426.4 273.7 L426.9 273.8 L427.4 273.9 L427.9 274.2 L428.4 274.4 L428.9 274.7 L429.4 275.1 L429.9 275.5 L430.4 276.0 L430.9 276.5 L431.4 277.0 L431.9 277.6 L432.4 278.2 L432.9 278.8 L433.4 279.4 L433.9 280.1 L434.4 280.7 L434.9 281.4 L435.4 282.1 L435.9 282.8 L436.4 282.8 L436.9 282.0 L437.4 281.2 L437.9 280.4 L438.4 279.7 L438.9 278.9 L439.4 278.2 L439.9 277.5 L440.4 276.9 L440.9 276.3 L441.4 275.7 L441.9 275.2 L442.4 274.7 L442.9 274.2 L443.4 273.8 L443.9 273.4 L444.4 273.1 L444.9 272.9 L445.4 272.7 L445.9 272.5 L446.4 272.4 L446.9 272.4 L447.4 272.3 L447.9 272.4 L448.4 272.5 L448.9 272.6 L449.4 272.8 L449.9 273.0 L450.4 273.3 L450.9 273.6 L451.4 273.9 L451.9 274.3 L452.4 274.7 L452.9 275.1 L453.4 275.5 L453.9 276.0 L454.4 276.5 L454.9 277.0 L455.4 277.6 L455.9 278.1 L456.4 278.6 L456.9 279.2 L457.4 279.7 L457.9 279.2 L458.4 278.6 L458.9 277.9 L459.4 277.2 L459.9 276.6 L460.4 276.0 L460.9 275.4 L461.4 274.8 L461.9 274.3 L462.4 273.8 L462.9 273.3 L463.4 272.8 L463.9 272.4 L464.4 272.0 L464.9 271.7 L465.4 271.4 L465.9 271.1 L466.4 270.9 L466.9 270.7 L467.4 270.5 L467.9 270.4 L468.4 270.3 L468.9 270.3 L469.4 270.3 L469.9 270.4 L470.4 270.5 L470.9 270.6 L471.4 270.7 L471.9 270.9 L472.4 271.1 L472.9 271.4 L473.4 271.7 L473.9 272.0 L474.4 272.3 L474.9 272.7 L475.4 273.0 L475.9 273.4 L476.4 273.8 L476.9 274.3 L477.4 274.7 L477.9 275.1 L478.4 275.6 L478.9 276.0 L479.4 276.2 L479.9 275.6 L480.4 275.0 L480.9 274.4 L481.4 273.9 L481.9 273.3 L482.4 272.8 L482.9 272.3 L483.4 271.8 L483.9 271.3 L484.4 270.8 L484.9 270.4 L485.4 270.0 L485.9 269.7 L486.4 269.3 L486.9 269.0 L487.4 268.8 L487.9 268.5 L488.4 268.3 L488.9 268.2 L489.2 268.1 L489.2 275.5 Z"/>
<text class="t" text-anchor="end" x="46.70" y="249.60">0</text>
<text class="t" text-anchor="end" x="46.70" y="209.96">5</text>
<text class="t" text-anchor="end" x="46.70" y="170.32">10</text>
<text class="t" text-anchor="end" x="46.70" y="130.68">15</text>
<text class="t" text-anchor="end" x="46.70" y="91.04">20</text>
<text class="t" text-anchor="end" x="46.70" y="51.40">25</text>
<text class="t" text-anchor="end" x="44.80" y="262.40">0</text>
<text class="t" text-anchor="end" x="71.60" y="278.12">50</text>
<text class="t" text-anchor="end" x="98.40" y="293.83">100</text>
<text class="t" text-anchor="end" x="125.20" y="309.55">150</text>
<text class="t" text-anchor="end" x="152.00" y="325.27">200</text>
<text class="t" text-anchor="end" x="178.80" y="340.98">250</text>
<text class="t" text-anchor="end" x="205.60" y="356.70">300</text>
<text class="t" x="227.70" y="361.20">-20</text>
<text class="t" x="266.25" y="355.07">-15</text>
<text class="t" x="304.80" y="348.95">-10</text>
<text class="t" x="343.35" y="342.82">-5</text>
<text class="t" x="381.90" y="336.70">0</text>
<text class="t" x="420.45" y="330.57">5</text>
<text class="t" x="459.00" y="324.45">10</text>
<text class="t" x="497.55" y="318.32">15</text>
<text class="t" x="536.10" y="312.20">20</text>
<text class="l" text-anchor="middle" style="font-size:13.4px" transform="translate(28.9,151.3) rotate(-90)">Distance(m)</text>
<text class="l" style="font-size:13.05px" text-anchor="middle" transform="translate(84.7,325.8) rotate(30.5)">The number of sampling intervals</text>
<text class="l" text-anchor="middle" transform="translate(411.3,364.4) rotate(-9)">Angle estimation range(°)</text>
<text class="n" x="97.0" y="39.1">Localization results of aging antenna</text>
<text class="n" x="97.0" y="55.1">array using the algorithm proposed</text>
<text class="n" x="97.0" y="71.0">in this paper</text>
<text class="n" x="381.0" y="144.2">Positioning results of</text>
<text class="n" x="381.0" y="161.1">aging antenna array</text>
<text class="n" x="381.0" y="177.9">using FFT algorithm</text>
<line class="ar" x1="200.80" y1="133.30" x2="180.07" y2="85.60"/><polygon fill="#000" points="177.20,79.00 184.66,86.88 180.07,85.60 177.87,89.83"/>
<line class="ar" x1="346.20" y1="159.60" x2="368.81" y2="149.69"/><polygon fill="#000" points="375.40,146.80 367.54,154.28 368.81,149.69 364.57,147.51"/>
</svg></body></html>
